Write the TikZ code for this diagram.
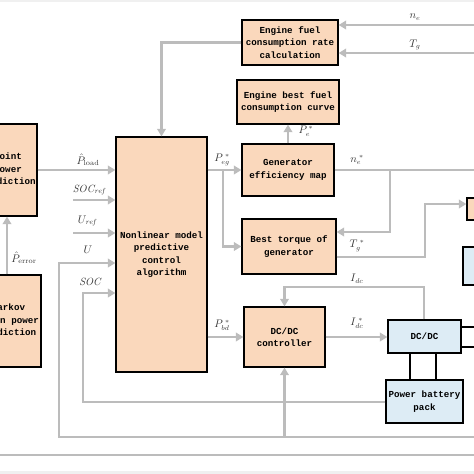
\documentclass[tikz,border=0pt]{standalone}
\usepackage{fontspec}
\usetikzlibrary{arrows.meta}
\newfontfamily\monof{Liberation Mono}
\definecolor{peach}{RGB}{250,216,188}
\definecolor{lblue}{RGB}{221,236,245}
\definecolor{lgray}{RGB}{188,188,188}
\definecolor{labc}{RGB}{55,55,55}
\tikzset{
 ob/.style={draw=black, line width=1.2pt, fill=peach, font=\monof\bfseries\fontsize{9.2}{12.5}\selectfont, align=center, inner sep=0pt},
 bb/.style={ob, fill=lblue},
 gl/.style={draw=lgray, line width=2.3pt},
 ga/.style={gl, -{Triangle[length=7.5pt,width=8.5pt]}},
 kl/.style={draw=black, line width=1.3pt},
 lab/.style={font=\fontsize{10.5}{11}\selectfont, text=labc, inner sep=0pt}
}
\begin{document}
\begin{tikzpicture}[x=1pt,y=-1pt]
\useasboundingbox (0,0) rectangle (474,474);
\fill[gray!12] (0,0) rectangle (474,2);
\fill[gray!12] (0,471) rectangle (474,474);
\begin{scope}
\clip (0,0) rectangle (474,474);
% boxes
\node[ob, minimum width=58pt, minimum height=92pt] (pointbox) at (8,170) {point\\power\\prediction};
\node[ob, minimum width=65pt, minimum height=92pt] (markov) at (8.5,321) {Markov\\chain power\\prediction};
\node[ob, minimum width=91pt, minimum height=235pt] (nmpc) at (161.5,254.5) {Nonlinear model\\predictive\\control\\algorithm};
\node[ob, minimum width=96pt, minimum height=45pt] (fuel) at (290,42.5) {Engine fuel\\consumption rate\\calculation};
\node[ob, minimum width=102pt, minimum height=44pt] (curve) at (288,102) {Engine best fuel\\consumption curve};
\node[ob, minimum width=92pt, minimum height=52pt] (genmap) at (288,170) {Generator\\efficiency map};
\node[ob, minimum width=94pt, minimum height=55pt] (torque) at (289,246.5) {Best torque of\\generator};
\node[ob, minimum width=81pt, minimum height=60pt] (dcctrl) at (284.5,337) {DC/DC\\controller};
\node[bb, minimum width=73pt, minimum height=33pt] (dcdc) at (424.5,336.5) {DC/DC};
\node[bb, minimum width=77pt, minimum height=43pt] (battery) at (424.5,401.5) {Power battery\\pack};
\node[ob, minimum width=40pt, minimum height=22pt] (rorange) at (487,209) {};
\node[bb, minimum width=40pt, minimum height=38pt] (rblue) at (483,266) {};
% coordinates
\coordinate (ne) at (474,25);
\coordinate (tg) at (474,53);
\coordinate (socref) at (73,200);
\coordinate (uref) at (73,233);
\coordinate (ur) at (474,437);
\coordinate (ul) at (59,437);
\coordinate (uu) at (59,263);
\coordinate (socb) at (83,402);
\coordinate (soct) at (83,293);
\coordinate (pegb) at (223,170);
\coordinate (neb) at (390,170);
\coordinate (nebt) at (390,232);
\coordinate (nestar) at (474,170);
\coordinate (tg1) at (425,257);
\coordinate (tg2) at (425,204);
\coordinate (idc) at (424,287);
\coordinate (k1) at (410,0);
\coordinate (k2) at (436,0);
\coordinate (r1) at (474,327);
\coordinate (r2) at (474,347);
\coordinate (mk) at (7,0);
\coordinate (bl) at (0,455);
\coordinate (br) at (474,455);
% gray connectors
\draw[ga] (fuel.west) -| (nmpc.north);
\draw[ga] (ne) -- (fuel.east |- ne);
\draw[ga] (tg) -- (fuel.east |- tg);
\draw[ga] (genmap.north) -- (curve.south);
\draw[ga] (pointbox.east) -- (nmpc.west |- pointbox.east);
\draw[ga] (socref) -- (nmpc.west |- socref);
\draw[ga] (uref) -- (nmpc.west |- uref);
\draw[ga] (ur) -- (ul) -- (uu) -- (nmpc.west |- uu);
\draw[ga] (dcctrl.south |- ur) -- (dcctrl.south);
\draw[ga] (battery.west |- socb) -- (socb) -- (soct) -- (nmpc.west |- soct);
\draw[ga] (nmpc.east |- genmap.west) -- (genmap.west);
\draw[ga] (pegb) |- (torque.west);
\draw[gl] (genmap.east) -- (nestar);
\draw[ga] (neb) -- (nebt) -- (torque.east |- nebt);
\draw[ga] (torque.east |- tg1) -- (tg1) -- (tg2) -- (rorange.west |- tg2);
\draw[ga] (dcdc.north -| idc) -- (idc) -- (dcctrl.north |- idc) -- (dcctrl.north);
\draw[ga] (nmpc.east |- dcctrl.west) -- (dcctrl.west);
\draw[ga] (dcctrl.east) -- (dcdc.west |- dcctrl.east);
\draw[ga] (markov.north -| mk) -- (pointbox.south -| mk);
\draw[gl] (bl) -- (br);
% black connectors
\draw[kl] (dcdc.south -| k1) -- (battery.north -| k1);
\draw[kl] (dcdc.south -| k2) -- (battery.north -| k2);
\draw[kl] (dcdc.east |- r1) -- (r1);
\draw[kl] (dcdc.east |- r2) -- (r2);
% labels
\node[lab] (l1) at (415,17) {$n_e$};
\node[lab] (l2) at (415,45) {$T_g$};
\node[lab] (l3) at (306,131) {$P_e^{\,*}$};
\node[lab] (l4) at (88,160) {$\hat{P}_{\mathrm{load}}$};
\node[lab] (l5) at (89,190) {$\mathit{SOC}_{\mathit{ref}}$};
\node[lab] (l6) at (87,221) {$U_{\mathit{ref}}$};
\node[lab] (l7) at (88,250) {$U$};
\node[lab] (l8) at (90,282) {$\mathit{SOC}$};
\node[lab] (l9) at (222,160) {$P_{eg}^{\;*}$};
\node[lab] (l10) at (357,160) {$n_e^{\;*}$};
\node[lab] (l11) at (357,246) {$T_g^{\;*}$};
\node[lab] (l12) at (357,279) {$I_{dc}$};
\node[lab] (l13) at (222,325) {$P_{bd}^{\;*}$};
\node[lab] (l14) at (357,323) {$I_{dc}^{\;*}$};
\node[lab] (l15) at (24,258) {$\hat{P}_{\mathrm{error}}$};
\end{scope}
\end{tikzpicture}
\end{document}
